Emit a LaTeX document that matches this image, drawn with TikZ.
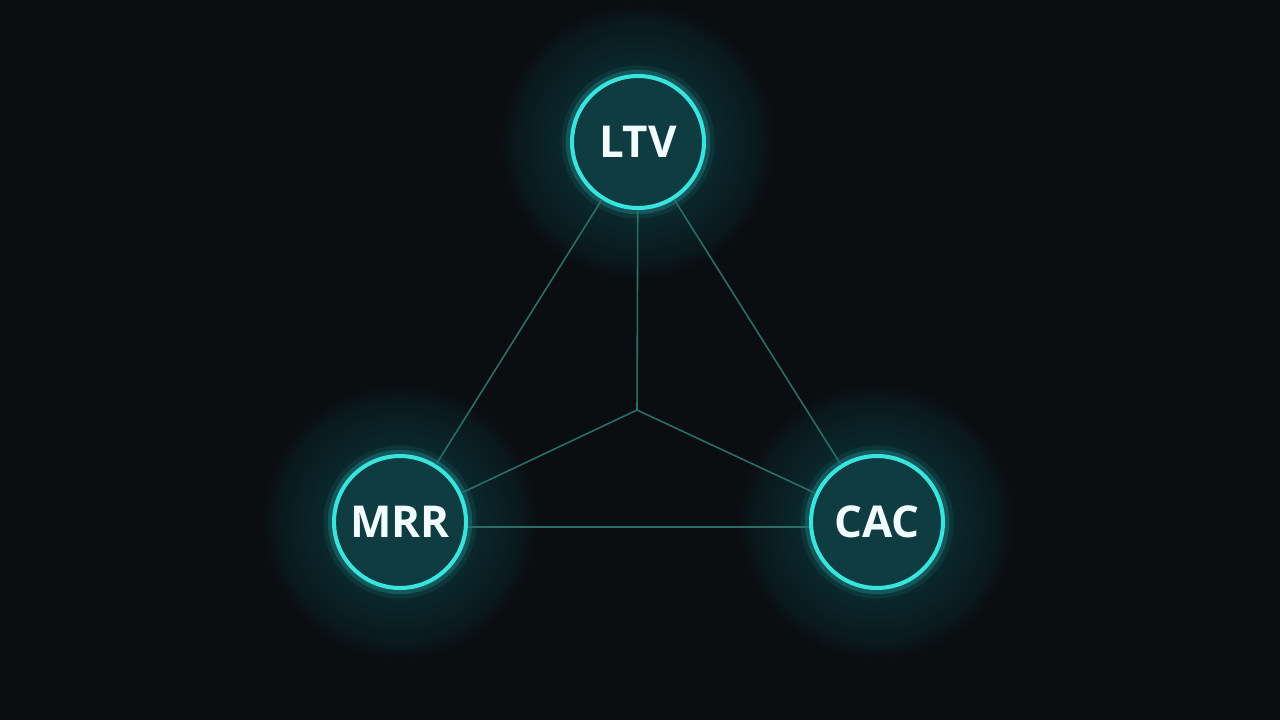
\documentclass[tikz,border=0pt]{standalone}
\usepackage{fontspec}
\setmainfont{Open Sans}
\usepackage{tikz}
\usetikzlibrary{calc}

\definecolor{bgcol}{HTML}{0A0E11}
\definecolor{ringcol}{HTML}{38E4DE}
\definecolor{fillcol}{HTML}{0F3C41}
\definecolor{linkcol}{HTML}{2A6E66}
\definecolor{halocol}{HTML}{113840}

\tikzset{
  metric/.style={circle, minimum size=2.64cm, inner sep=0pt,
    fill=fillcol, draw=ringcol, line width=2.3pt, text=white!95!cyan,
    font=\fontsize{25}{28}\selectfont\bfseries,
    preaction={draw=ringcol, line width=12pt, opacity=0.08},
    preaction={draw=ringcol, line width=7pt, opacity=0.20}},
  link/.style={draw=linkcol, line width=0.9pt}
}

\begin{document}
\begin{tikzpicture}[x=0.02cm, y=-0.02cm]
\fill[bgcol] (0,0) rectangle (1280,720);
\useasboundingbox (0,0) rectangle (1280,720);
% soft glow round the circles
\foreach \x/\y in {638/142, 400/522, 877/522}
  \foreach \r in {70,73,...,136}
    \fill[halocol, opacity=0.06] (\x,\y) circle (\r);

\coordinate (O) at (637,410);
\node[metric] (LTV) at (638,142) {LTV};
\node[metric] (MRR) at (400,522) {MRR};
\node[metric] (CAC) at (877,522) {CAC};

\draw[link] (LTV) -- (MRR);
\draw[link] (LTV) -- (CAC);
\draw[link] (LTV) -- (O);
\draw[link] (O) -- (MRR);
\draw[link] (O) -- (CAC);
\draw[link] (MRR.-4) -- (CAC.-176);
\end{tikzpicture}
\end{document}
